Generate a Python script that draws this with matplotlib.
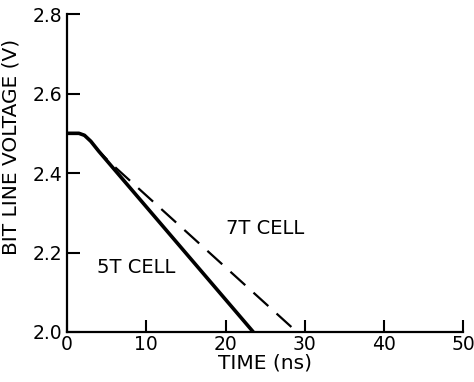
"""Bit line discharge: 5T cell vs 7T cell."""

import matplotlib
matplotlib.use("Agg")
import matplotlib.pyplot as plt

# solid curve: 5T cell
t_5t = [0.0, 1.5, 2.2, 3.0, 4.0, 23.5]
v_5t = [2.50, 2.50, 2.495, 2.48, 2.455, 2.00]

# dashed curve: 7T cell (shares the start of the 5T curve)
t_7t = [0.0, 1.5, 2.2, 3.0, 4.0, 5.5, 29.0]
v_7t = [2.50, 2.50, 2.495, 2.48, 2.455, 2.425, 2.00]

x_ticks = [0, 10, 20, 30, 40, 50]
y_ticks = [2.0, 2.2, 2.4, 2.6, 2.8]

plt.rcParams["font.family"] = ["DejaVu Sans"]

fig = plt.figure(figsize=(4.74, 3.82), dpi=100)
ax = fig.add_axes([0.1414, 0.131, 0.836, 0.832])

ax.plot(t_5t, v_5t, color="black", linewidth=2.6, solid_capstyle="butt")
ax.plot(t_7t, v_7t, color="black", linewidth=1.6, dashes=(9, 5))

ax.text(20.0, 2.26, "7T CELL", fontsize=14, va="center", ha="left")
ax.text(3.8, 2.163, "5T CELL", fontsize=14, va="center", ha="left")

ax.set_xlim(0, 50)
ax.set_ylim(2.0, 2.8)
ax.set_xticks(x_ticks)
ax.set_yticks(y_ticks)
ax.set_xticklabels([str(v) for v in x_ticks])
ax.set_yticklabels([f"{v:.1f}" for v in y_ticks])

for side in ("top", "right"):
    ax.spines[side].set_visible(False)
for side in ("left", "bottom"):
    ax.spines[side].set_linewidth(1.6)

ax.tick_params(direction="in", length=9, width=1.5, labelsize=13.5)
ax.tick_params(axis="y", pad=3.5)
ax.tick_params(axis="x", pad=2)

ax.set_xlabel("TIME (ns)", fontsize=14.5, labelpad=0)
ax.set_ylabel("BIT LINE VOLTAGE (V)", fontsize=14.5)
ax.yaxis.set_label_coords(-0.118, 0.582)

fig.savefig("out.png", dpi=100)
